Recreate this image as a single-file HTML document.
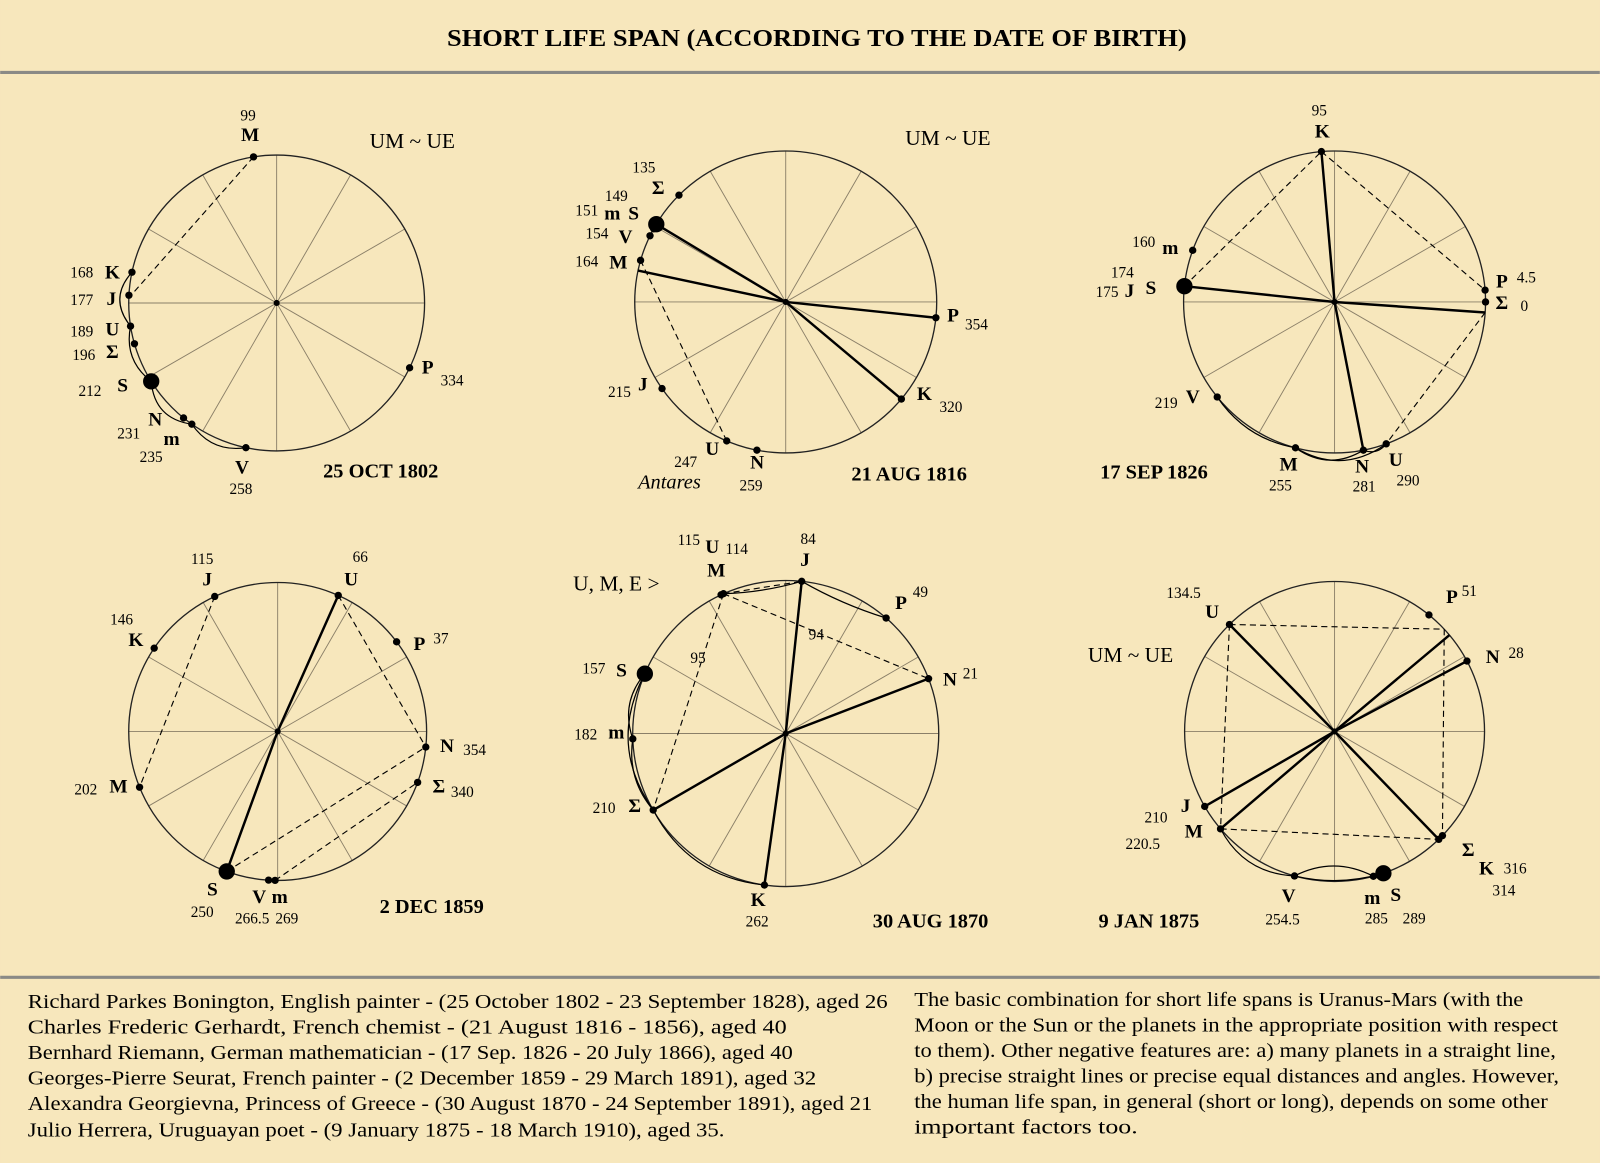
<!DOCTYPE html>
<html><head><meta charset="utf-8"><style>
html,body{margin:0;padding:0;background:#f7e7bc;}
svg{display:block}
text{font-family:"Liberation Serif",serif;fill:#000}
.b{font-weight:bold;font-size:19px}
.n{font-size:15px}
.d{font-weight:bold;font-size:20px}
.u{font-size:21px}
.f{font-size:20px}
</style></head><body>
<svg id="s" width="1600" height="1163" viewBox="0 0 1568 1140" xmlns="http://www.w3.org/2000/svg">
<rect width="1568" height="1140" fill="#f7e7bc"/>
<text x="438" y="45" textLength="725" lengthAdjust="spacingAndGlyphs" style="font-weight:bold;font-size:24px">SHORT LIFE SPAN  (ACCORDING TO THE DATE OF BIRTH)</text>
<line x1="0" y1="71" x2="1568" y2="71" stroke="#8a8a86" stroke-width="3"/>
<line x1="0" y1="958" x2="1568" y2="958" stroke="#8a8a86" stroke-width="3"/>
<g class="f">
<text x="27" y="988" textLength="843" lengthAdjust="spacingAndGlyphs">Richard Parkes Bonington, English painter -  (25 October 1802 - 23 September 1828), aged 26</text>
<text x="27" y="1013" textLength="744" lengthAdjust="spacingAndGlyphs">Charles Frederic Gerhardt, French chemist -  (21 August 1816  -  1856), aged 40</text>
<text x="27" y="1038" textLength="750" lengthAdjust="spacingAndGlyphs">Bernhard Riemann, German mathematician - (17 Sep. 1826 - 20 July 1866), aged 40</text>
<text x="27" y="1063" textLength="773" lengthAdjust="spacingAndGlyphs">Georges-Pierre Seurat, French painter -  (2 December 1859 - 29 March 1891), aged 32</text>
<text x="27" y="1088" textLength="828" lengthAdjust="spacingAndGlyphs">Alexandra Georgievna, Princess of Greece - (30 August 1870 - 24 September 1891), aged 21</text>
<text x="27" y="1114" textLength="683" lengthAdjust="spacingAndGlyphs">Julio Herrera, Uruguayan poet - (9 January 1875 - 18 March 1910), aged 35.</text>
<text x="896" y="986" textLength="597" lengthAdjust="spacingAndGlyphs">The basic combination for short life spans is Uranus-Mars (with the</text>
<text x="896" y="1011" textLength="631" lengthAdjust="spacingAndGlyphs">Moon or the Sun or the planets in the appropriate position with respect</text>
<text x="896" y="1036" textLength="629" lengthAdjust="spacingAndGlyphs">to them). Other negative features are: a) many planets in a straight line,</text>
<text x="896" y="1061" textLength="632" lengthAdjust="spacingAndGlyphs">b) precise straight lines or precise equal distances and angles. However,</text>
<text x="896" y="1086" textLength="621" lengthAdjust="spacingAndGlyphs">the human life span, in general (short or long), depends on some other</text>
<text x="896" y="1111" textLength="219" lengthAdjust="spacingAndGlyphs">important factors too.</text>
</g>
<g id="g"></g>
</svg>
<script>
var NS="http://www.w3.org/2000/svg",G=document.getElementById("g");
function el(t,a,txt){var e=document.createElementNS(NS,t);for(var k in a)e.setAttribute(k,a[k]);if(txt!=null)e.textContent=txt;G.appendChild(e);return e;}
function P(c,a){var r=a*Math.PI/180;return [c[0]+c[2]*Math.cos(r),c[1]-c[2]*Math.sin(r)];}
function diagram(c,pl,big,thick,dash,curves,labels){
 for(var a=0;a<180;a+=30){var p=P(c,a),q=P(c,a+180);el("line",{x1:p[0],y1:p[1],x2:q[0],y2:q[1],stroke:"#8a7f68","stroke-width":0.9});}
 el("circle",{cx:c[0],cy:c[1],r:c[2],fill:"none",stroke:"#222","stroke-width":1.3});
 el("circle",{cx:c[0],cy:c[1],r:3,fill:"#000"});
 thick.forEach(function(l){var p=P(c,l[0]),q=P(c,l[1]);el("polyline",{points:p[0]+","+p[1]+" "+c[0]+","+c[1]+" "+q[0]+","+q[1],fill:"none",stroke:"#000","stroke-width":2.4});});
 dash.forEach(function(l){var p=P(c,l[0]),q=P(c,l[1]);el("line",{x1:p[0],y1:p[1],x2:q[0],y2:q[1],stroke:"#000","stroke-width":1.1,"stroke-dasharray":"6,4"});});
 curves.forEach(function(l){var p=P(c,l[0]),q=P(c,l[1]);var m=P([c[0],c[1],c[2]-(l[2]||18)],(l[0]+l[1])/2);
  el("path",{d:"M"+p[0]+","+p[1]+" Q"+m[0]+","+m[1]+" "+q[0]+","+q[1],fill:"none",stroke:"#000","stroke-width":1.2});});
 pl.forEach(function(a){var p=P(c,a);el("circle",{cx:p[0],cy:p[1],r:(a===big?8:3.6),fill:"#000"});});
 labels.forEach(function(l){el("text",{x:l[1],y:l[2]+6,"class":l[3]||(/^[0-9.]+$/.test(l[0])?"n":"b"),"text-anchor":"middle","font-style":l[4]||"normal"},l[0]);});
}
diagram([271,297,145],[99,168,177,189,196,212,231,235,258,334],212,[],[[99,178]],[[168,189,-20],[189,212,-15],[212,235,-20],[235,258,-15]],
[["99",243,112],["M",245,132],["UM ~ UE",404,139,"u"],["168",80,266],["K",110,267],["177",80,293],["J",109,293],["189",80,324],["U",110,323],["196",82,347],["Σ",110,345],["212",88,382],["S",120,378],["N",152,411],["231",126,424],["m",168,430],["235",148,447],["V",237,458],["258",236,478],["P",419,360],["334",443,372],["25 OCT 1802",373,462,"d"]]);
diagram([770,296,148],[135,149,151,154,164,215,247,259,320,354],149,[[149,320],[168,354]],[[164,247]],[],
[["135",631,163],["Σ",645,184],["149",604,191],["151",575,205],["m",600,209],["S",621,209],["154",585,228],["V",613,232],["164",575,255],["M",606,257],["215",607,383],["J",630,377],["247",672,452],["U",698,440],["Antares",656,473,"f","italic"],["N",742,453],["259",736,475],["K",906,386],["320",932,398],["P",934,309],["354",957,317],["UM ~ UE",929,136,"u"],["21 AUG 1816",891,465,"d"]]);
diagram([1308,296,148],[95,160,174,4.5,0,219,255,281,290],174,[[95,281],[174,356]],[[95,4.5],[174,95],[356,290]],[[219,255,-12],[255,281,-18],[255,290,-22],[281,290,-8]],
[["95",1293,107],["K",1296,129],["160",1121,236],["m",1147,243],["174",1100,266],["175",1085,285],["J",1107,285],["S",1128,282],["P",1472,276],["4.5",1496,271],["Σ",1472,297],["0",1494,299],["219",1143,394],["V",1169,389],["M",1263,455],["255",1255,475],["N",1335,457],["281",1337,476],["U",1368,451],["290",1380,470],["17 SEP 1826",1131,463,"d"]]);
diagram([272,717,146],[115,66,37,354,340,266.5,269,250,202,146],250,[[66,250]],[[115,202],[66,354],[250,354],[269,340]],[],
[["115",198,547],["J",203,568],["66",353,545],["U",344,568],["P",411,631],["37",432,625],["146",119,606],["K",133,627],["N",438,731],["354",465,734],["Σ",430,771],["340",453,775],["202",84,773],["M",116,771],["S",208,872],["250",198,893],["V",254,879],["m",274,879],["266.5",247,899],["269",281,899],["2 DEC 1859",423,889,"d"]]);
diagram([770,719,150],[115,114,84,49,21,157,182,210,262],157,[[84,262],[21,210]],[[114,210],[114,21],[114,84]],[[114,84,10],[84,49,12],[157,182,-15],[157,210,-25],[182,210,-12],[210,262,-20]],
[["115",675,528],["U",698,536],["114",722,537],["M",702,559],["84",792,527],["J",789,549],["P",883,591],["49",902,579],["N",931,666],["21",951,659],["U, M, E  >",604,573,"u"],["157",582,654],["S",609,657],["182",574,719],["m",604,718],["210",592,791],["Σ",622,790],["K",743,882],["262",742,902],["94",800,621,"n"],["95",684,644,"n"],["30 AUG 1870",912,903,"d"]]);
diagram([1308,717,147],[134.5,51,28,210,220.5,254.5,285,289,316,314],289,[[134.5,314],[28,210],[40,220.5]],[[134.5,43],[134.5,220.5],[220.5,314],[43,316]],[[220.5,254.5,-18],[254.5,285,25],[254.5,289,-5]],
[["134.5",1160,580],["U",1188,600],["P",1423,585],["51",1440,578],["N",1463,644],["28",1486,639],["UM ~ UE",1108,643,"u"],["210",1133,800],["J",1162,790],["M",1170,815],["220.5",1120,826],["Σ",1439,833],["K",1457,851],["316",1485,850],["314",1474,872],["V",1263,878],["254.5",1257,900],["m",1345,880],["S",1368,877],["285",1349,899],["289",1386,899],["9 JAN 1875",1126,903,"d"]]);
</script>
</body></html>
